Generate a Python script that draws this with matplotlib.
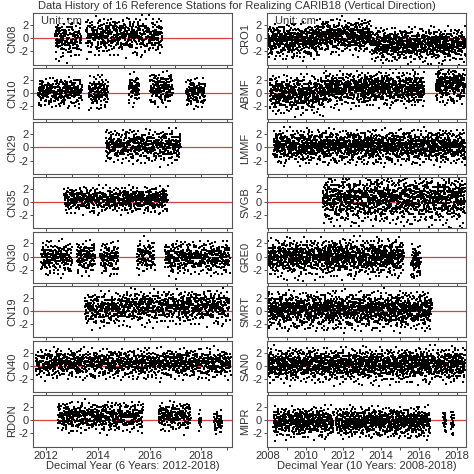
import numpy as np
import matplotlib
matplotlib.use("Agg")
import matplotlib.pyplot as plt

plt.rcParams['font.family'] = ['Liberation Sans', 'DejaVu Sans']

left_names = ["CN08", "CN10", "CN29", "CN35", "CN30", "CN19", "CN40", "RDON"]
right_names = ["CRO1", "ABMF", "LMMF", "SVGB", "GRE0", "SMRT", "SAN0", "MIPR"]

# data coverage segments: (start, end, mean level in cm, scatter scale)
left_segments = [
    [(2012.35, 2013.35, -0.2, 1.0), (2013.55, 2016.5, 0.3, 1.0)],
    [(2011.7, 2013.4, 0.1, 0.8), (2013.65, 2014.4, 0.1, 0.9), (2015.2, 2015.6, 0.6, 0.8), (2016.0, 2016.9, 0.6, 0.9), (2017.4, 2018.15, 0.0, 0.8)],
    [(2014.3, 2017.2, 0.2, 0.9)],
    [(2012.7, 2016.7, 0.3, 0.7)],
    [(2011.8, 2013.0, -0.2, 0.9), (2013.2, 2013.9, -0.2, 0.9), (2014.1, 2014.8, -0.3, 0.9), (2015.5, 2016.2, 0.0, 0.9), (2016.6, 2019.1, -0.2, 0.9)],
    [(2013.5, 2015.0, 0.3, 0.9), (2015.0, 2019.1, 0.6, 0.9)],
    [(2011.6, 2019.15, 0.3, 0.8)],
    [(2012.45, 2015.75, 0.5, 0.8), (2016.35, 2017.6, 0.6, 0.8), (2017.9, 2018.0, 0.0, 0.5), (2018.5, 2018.8, -0.3, 0.6)],
]
right_segments = [
    [(2008.0, 2010.6, -0.4, 0.9), (2010.6, 2013.5, 0.3, 0.9), (2013.5, 2018.5, -1.0, 0.9)],
    [(2008.1, 2011.0, -0.2, 1.0), (2011.0, 2016.3, 0.6, 0.9), (2016.9, 2018.45, 1.2, 1.0)],
    [(2008.3, 2018.45, 0.1, 0.9)],
    [(2010.9, 2018.45, 0.3, 1.3)],
    [(2008.0, 2015.2, -0.2, 1.0), (2015.6, 2016.1, -0.8, 0.9)],
    [(2008.0, 2016.7, 0.1, 1.0)],
    [(2008.0, 2018.45, 0.1, 0.9)],
    [(2008.3, 2011.5, -0.3, 0.8), (2011.6, 2016.6, -0.3, 0.8), (2017.3, 2017.45, -0.3, 0.7), (2017.7, 2017.85, -0.5, 0.7)],
]

# hand-typed residual patterns (cm)
residuals = [0.3, -0.8, 1.2, -0.1, 0.6, -1.5, 0.9, 0.2, -0.4, 1.8, -0.9, 0.1,
             -1.1, 0.7, 0.4, -0.3, 1.4, -2.1, 0.5, -0.6, 1.0, 0.0, -1.3, 2.2,
             -0.2, 0.8, -0.7, 1.6, -1.8, 0.3, 0.9, -0.5, -1.0, 1.1, 0.2, -2.4,
             1.3, -0.4, 0.6, -0.9, 2.0, -0.1, -1.6, 0.4, 0.7, -0.3, 1.5, -1.2,
             0.1, -0.7, 2.6, -0.2, 0.5, -1.4, 0.8, -2.8, 1.7, 0.0, -0.6, 1.2, 0.3]
residuals2 = [0.2, -0.5, 0.1, 0.6, -0.3, 0.0, 0.4, -0.7, 0.3, -0.1, 0.5, -0.4,
              0.8, -0.2, 0.0, -0.6, 0.3, 0.1, -0.3, 0.7, -0.8, 0.2, 0.4, -0.1,
              -0.4, 0.6, 0.0, -0.2, 0.5, -0.5, 0.1, 0.3, -0.6, 0.2, 0.0, 0.4,
              -0.3, 0.1, 0.6, -0.1, -0.7, 0.3, 0.2, -0.4, 0.5, 0.0, -0.2, 0.1, 0.7, -0.5, 0.2, -0.3, 0.4]
day_steps = [1.0, 2.0, 1.0, 3.0, 1.0, 1.0, 2.0, 4.0, 1.0, 2.0, 1.0, 1.0, 3.0]

def series(segs, s1, s2):
    xs, ys = [], []
    k1, k2, k3 = s1, s2, s1 + s2
    for (a, b, lvl, sc) in segs:
        t = a
        while t <= b:
            xs.append(t)
            ys.append(lvl + sc * (residuals[k1 % len(residuals)] + residuals2[k2 % len(residuals2)]))
            k1 += 7; k2 += 3; k3 += 1
            t += day_steps[k3 % len(day_steps)] / 365.25
    return np.array(xs), np.array(ys)

fig = plt.figure(figsize=(4.74, 4.74), dpi=100)
top, bottom = 0.972, 0.058
n = 8
gap = 0.007
h = (top - bottom - gap * (n - 1)) / n
cols = [(0.070, 0.420, left_names, left_segments, (2011.5, 2019.2), [2012, 2014, 2016, 2018], "Decimal Year (6 Years: 2012-2018)"),
        (0.563, 0.420, right_names, right_segments, (2007.95, 2018.5), list(range(2008, 2019, 2)), "Decimal Year (10 Years: 2008-2018)")]
for ci, (x0, w, names, segs, xlim, xt, xl) in enumerate(cols):
    for r in range(n):
        ax = fig.add_axes([x0, top - (r + 1) * h - r * gap, w, h])
        xs, ys = series(segs[r], 3 * r + 11 * ci, 5 * r + 2 * ci)
        ax.axhline(0, color='#e04040', lw=0.9, zorder=1)
        ax.scatter(xs, ys, s=1.8, marker='s', c='black', linewidths=0, zorder=2)
        ax.set_xlim(*xlim)
        ax.set_ylim(-4, 3.8)
        ax.set_yticks([-2, 0, 2])
        ax.set_yticklabels(['-2', '0', '2'])
        years = list(range(int(np.ceil(xlim[0])), int(xlim[1]) + 1))
        ax.set_xticks(years)
        ax.set_xticklabels([str(v) if v in xt else '' for v in years])
        ax.tick_params(labelsize=8, length=2, width=0.6, pad=1.5, colors='#333333')
        ax.set_ylabel(names[r], fontsize=8, labelpad=1, color='#333333')
        for s in ax.spines.values():
            s.set_color('#555555'); s.set_linewidth(0.8)
        if r < n - 1:
            ax.tick_params(labelbottom=False)
        else:
            ax.set_xlabel(xl, fontsize=8, labelpad=0, color='#333333')
        if r == 0:
            ax.text(0.04, 0.95, "Unit: cm", transform=ax.transAxes, fontsize=8, va='top', color='#333333')

fig.text(0.5, 0.988, "Data History of 16 Reference Stations for Realizing CARIB18 (Vertical Direction)",
         ha='center', va='center', fontsize=8, color='#333333')
fig.savefig("out.png", dpi=100)
